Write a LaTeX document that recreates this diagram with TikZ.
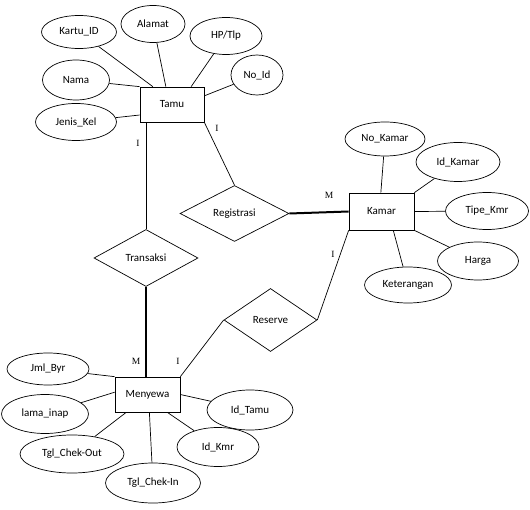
\documentclass[tikz,border=0pt]{standalone}
\usepackage{fontspec}
\setmainfont{Carlito}
\newfontfamily\cardfont{Liberation Serif}
\usetikzlibrary{shapes.geometric}

\tikzset{
  attr/.style={draw,ellipse,inner sep=0pt,font={\fontsize{11}{13}\selectfont}},
  entity/.style={draw,rectangle,inner sep=0pt,minimum width=64pt,minimum height=35pt,font={\fontsize{11}{13}\selectfont}},
  rel/.style={draw,diamond,inner sep=0pt,font={\fontsize{11}{13}\selectfont}},
  card/.style={inner sep=0pt,font={\cardfont\fontsize{9.5}{11}\selectfont}},
  strong/.style={line width=2pt}
}

\begin{document}
\begin{tikzpicture}[x=1pt,y=-1pt,line width=0.7pt]
  \useasboundingbox (0,0) rectangle (530,510);
  % entitas
  \node[entity] (tamu) at (172,104.5) {Tamu};
  \node[entity,minimum width=65pt,minimum height=37pt] (kamar) at (381.5,211.5) {Kamar};
  \node[entity,minimum width=65pt] (menyewa) at (147.5,394.5) {Menyewa};
  % relasi
  \node[rel,minimum width=104pt,minimum height=57pt] (transaksi) at (146,258) {Transaksi};
  \node[rel,minimum width=109pt,minimum height=56pt] (registrasi) at (234.5,213.5) {Registrasi};
  \node[rel,minimum width=93pt,minimum height=63pt] (reserve) at (270.5,320) {Reserve};
  % atribut tamu
  \foreach \n/\t/\x/\y/\w/\h/\a in {kartu/Kartu\_ID/79/32/75/33/137,alamat/Alamat/153/24/64/37/109,
      hptlp/{HP/Tlp}/226/36/72/37/43,noid/No\_Id/257/75/52/40/15,nama/Nama/76/80/67/40/north west,
      jenis/Jenis\_Kel/76/122/81/37/198}
     {\node[attr,minimum width=\w pt,minimum height=\h pt] (\n) at (\x,\y) {\t}; \draw (\n) -- (tamu.\a);}
  % atribut kamar
  \foreach \n/\t/\x/\y/\w/\h/\a in {nokamar/No\_Kamar/385/139/80/34/92,idkamar/Id\_Kamar/458/162/84/39/north east,
      tipe/Tipe\_Kmr/487/211/83/37/0,harga/Harga/478/261/81/38/south east,ket/Keterangan/408/285/87/36/302}
     {\node[attr,minimum width=\w pt,minimum height=\h pt] (\n) at (\x,\y) {\t}; \draw (\n) -- (kamar.\a);}
  % atribut menyewa
  \foreach \n/\t/\x/\y/\w/\h/\a in {jml/Jml\_Byr/48/369/82/32/north west,lama/lama\_inap/45/414/87/39/176,
      tout/Tgl\_Chek-Out/72/454/104/38/220,tin/Tgl\_Chek-In/153/483/95/40/276,
      idkmr/Id\_Kmr/218/447/82/39/318,idtamu/Id\_Tamu/250/410/86/40/0}
     {\node[attr,minimum width=\w pt,minimum height=\h pt] (\n) at (\x,\y) {\t}; \draw (\n) -- (menyewa.\a);}
  % garis relasi
  \draw (tamu.south -| transaksi.north) -- (transaksi.north);
  \draw[line width=1.4pt] (transaksi.south) -- (transaksi.south |- menyewa.north);
  \draw (tamu.south east) -- (registrasi.north);
  \draw[strong] (registrasi.east) -- (kamar.west);
  \draw (kamar.south west) -- (reserve.east);
  \draw (reserve.west) -- (menyewa.north east);
  % kardinalitas
  \node[card] (c1) at (138,143) {I};
  \node[card] (c2) at (217,128) {I};
  \node[card] (c3) at (329,195) {M};
  \node[card] (c4) at (333,254) {I};
  \node[card] (c5) at (136,361) {M};
  \node[card] (c6) at (178,361) {I};
\end{tikzpicture}
\end{document}
